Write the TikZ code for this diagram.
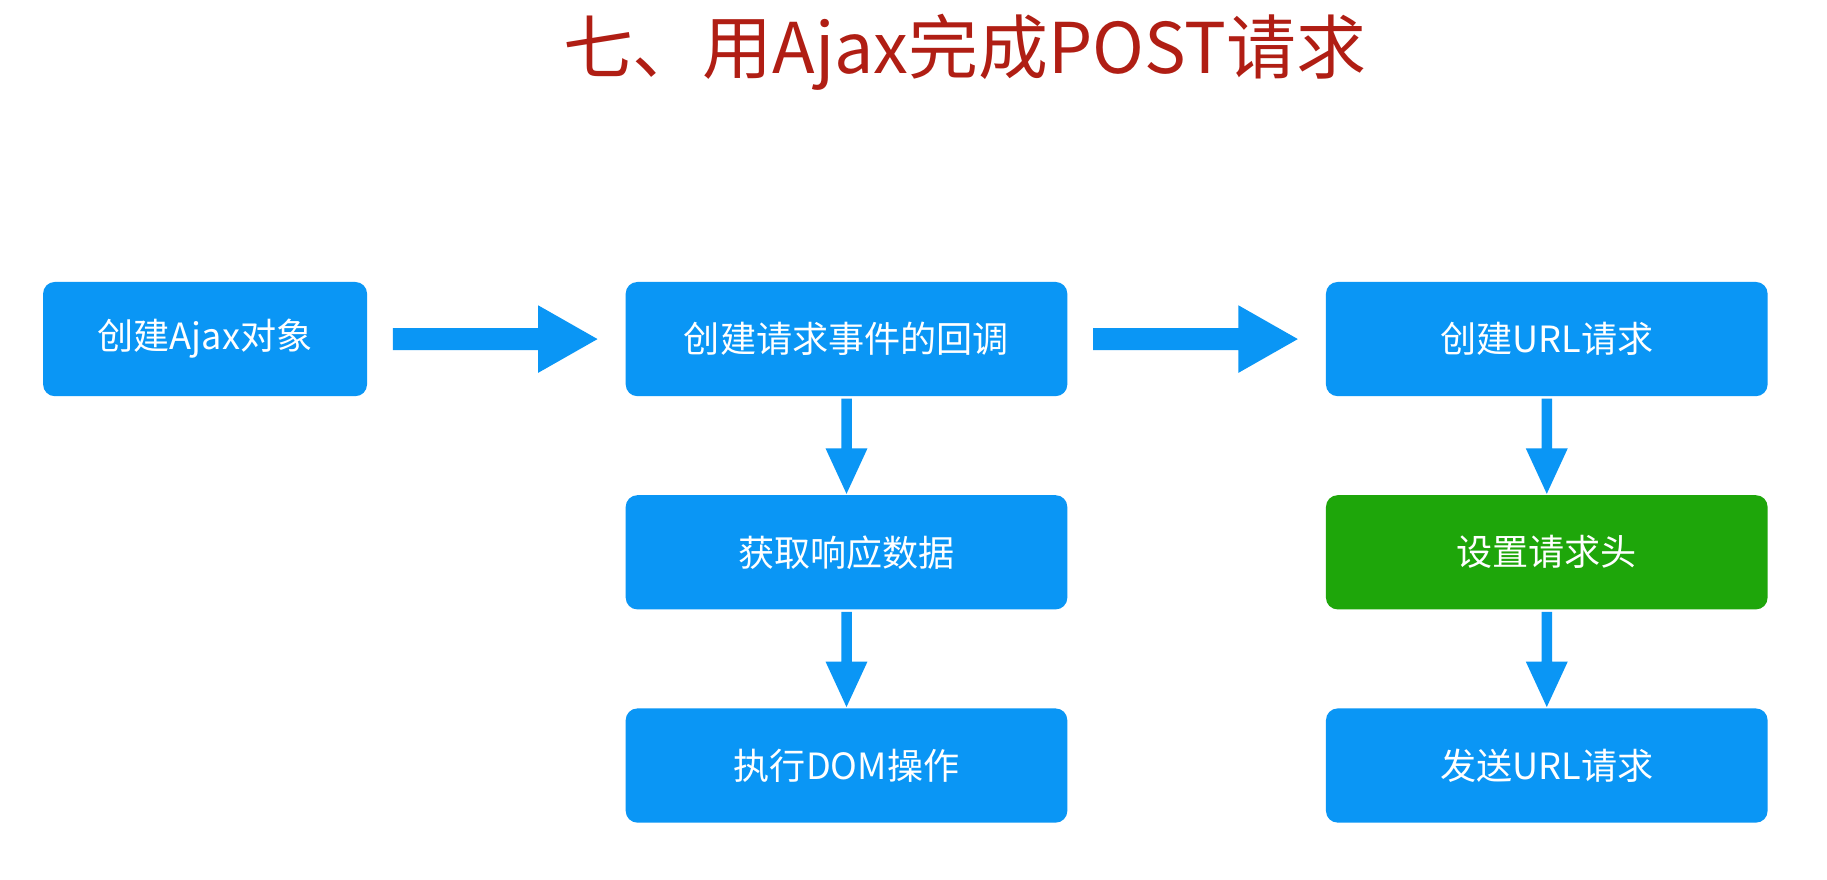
\documentclass[tikz,border=0pt]{standalone}
\usepackage{fontspec}
\newfontfamily\cjk{Noto Sans CJK SC}
\usetikzlibrary{calc}
\definecolor{bboxc}{HTML}{0A96F5}
\definecolor{gboxc}{HTML}{1EA60A}
\definecolor{titlec}{HTML}{B01E14}
\begin{document}
\begin{tikzpicture}[x=1pt,y=-1pt,
  stepbox/.style={fill=bboxc,rounded corners=10pt,minimum width=379pt,minimum height=98pt,text=white,font=\cjk\fontsize{31}{36}\selectfont,inner sep=0pt},
  arr/.style={fill=bboxc}]
\useasboundingbox[fill=white] (0,0) rectangle (1568,755);
\node[font=\cjk\fontsize{60}{70}\selectfont,text=titlec] (title) at (828,45) {七、用Ajax完成POST请求};
\node[stepbox,minimum width=278pt] (a) at (176,291) {创建Ajax对象};
\node[stepbox] (b) at (726.5,291) {创建请求事件的回调};
\node[stepbox] (c) at (1327.5,291) {创建URL请求};
\node[stepbox] (d) at (726.5,474) {获取响应数据};
\node[stepbox] (e) at (726.5,657) {执行DOM操作};
\node[stepbox,fill=gboxc] (f) at (1327.5,474) {设置请求头};
\node[stepbox] (g) at (1327.5,657) {发送URL请求};
% horizontal arrows
\foreach \s/\t in {a/b,b/c}{
  \fill[arr] ($(\s.east)+(22,-9.5)$) -- ($(\t.west)+(-75,-9.5)$) -- ($(\t.west)+(-75,-29)$) -- ($(\t.west)+(-24,0)$) -- ($(\t.west)+(-75,29)$) -- ($(\t.west)+(-75,9.5)$) -- ($(\s.east)+(22,9.5)$) -- cycle;
}
% vertical arrows
\foreach \s/\t in {b/d,d/e,c/f,f/g}{
  \fill[arr] ($(\s.south)+(-4.5,2)$) -- ($(\t.north)+(-4.5,-40)$) -- ($(\t.north)+(-18,-40)$) -- ($(\t.north)+(0,-1)$) -- ($(\t.north)+(18,-40)$) -- ($(\t.north)+(4.5,-40)$) -- ($(\s.south)+(4.5,2)$) -- cycle;
}
\end{tikzpicture}
\end{document}
